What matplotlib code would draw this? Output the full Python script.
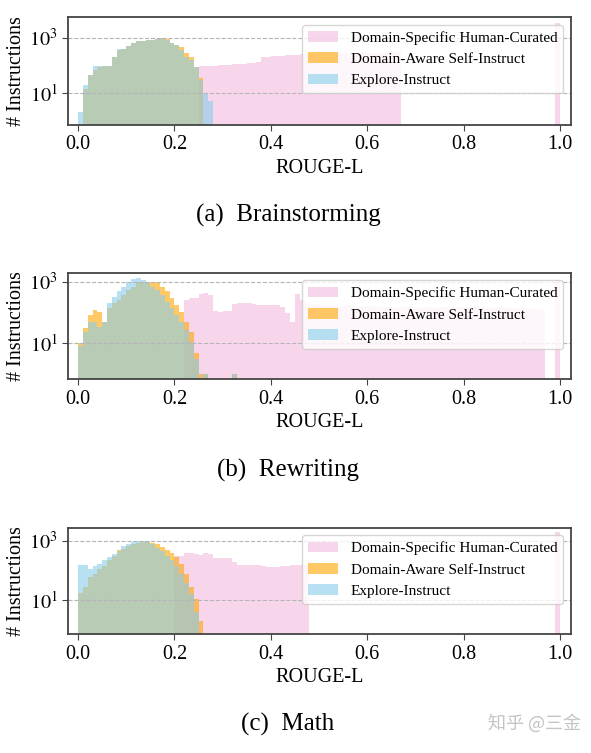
import numpy as np
import matplotlib
matplotlib.use("Agg")
import matplotlib.pyplot as plt
from matplotlib.ticker import NullLocator

plt.rcParams["font.family"] = ["Liberation Serif", "DejaVu Serif"]
plt.rcParams["mathtext.fontset"] = "stix"

# --- histogram counts per 0.01 ROUGE-L bin (start bin index, counts) ----------
EDGES = np.round(np.linspace(0.0, 1.0, 101), 2)

# (a) Brainstorming
A_HUMAN = (25, [90, 92, 95, 95, 98, 100, 105, 108, 110, 112, 115, 120, 125,
                200, 205, 210, 215, 220, 225, 230, 240,
                250, 255, 260, 262, 265, 268, 270, 270, 272, 275, 275, 278,
                280, 280, 282, 285, 285, 288, 290, 290, 292])
A_HUMAN_TOP = (99, [3300])
A_SELF = (0, [0, 14, 43, 65, 85, 90, 95, 200, 360, 400, 480, 640, 730, 760,
              800, 850, 920, 1000, 900, 650, 530, 450, 270, 200, 85, 35])
A_EXPLORE = (0, [2, 19, 43, 90, 95, 90, 95, 200, 400, 400, 480, 640, 730,
                 760, 800, 850, 920, 1000, 850, 650, 520, 350, 200, 150, 85,
                 30, 10, 5])

# (b) Rewriting
B_HUMAN = (22, [250, 300, 300, 400, 420, 380, 110, 105, 110, 115,
                190, 200, 205, 200, 195, 180, 175, 170, 175, 170, 150, 95, 50,
                400, 250, 200, 180, 190, 170, 160, 175, 165, 150, 160, 170,
                155, 150, 165, 160, 150, 145, 160, 155, 150, 140, 150, 160,
                145, 140, 150, 155, 140, 135, 150, 145, 140, 150, 145, 135,
                140, 150, 145, 140, 135, 140, 145, 150, 140, 135, 130, 140,
                135, 130, 125, 120])
B_HUMAN_TOP = (99, [1100])
B_SELF = (0, [10, 32, 83, 120, 107, 50, 140, 200, 250, 370, 540, 690, 950,
              1000, 1000, 1000, 950, 690, 480, 290, 175, 107, 50, 24, 5, 1, 1,
              0, 0, 0, 0, 0, 1])
B_EXPLORE = (0, [8, 24, 50, 50, 35, 50, 200, 320, 480, 690, 1000, 1230, 1350,
                 1120, 890, 690, 540, 370, 220, 140, 83, 50, 27, 11, 3, 0, 1,
                 0, 0, 0, 0, 0, 1])

# (c) Math
C_HUMAN = (20, [300, 300, 380, 380, 350, 340, 380, 360, 260, 260, 270, 260,
                200, 160, 160, 155, 160, 150, 140, 135, 135, 135, 140, 140,
                150, 150, 155, 155])
C_HUMAN_TOP = (99, [2000])
C_SELF = (0, [18, 27, 59, 78, 115, 138, 220, 316, 480, 550, 660, 780, 850,
              930, 1000, 850, 780, 630, 500, 390, 280, 170, 78, 27, 11, 2])
C_EXPLORE = (0, [150, 160, 115, 138, 170, 220, 280, 355, 450, 660, 810, 930,
                 1000, 1000, 930, 780, 590, 460, 320, 220, 140, 78, 37, 16, 4])

PANELS = [
    ("(a)  Brainstorming", [A_HUMAN, A_HUMAN_TOP], A_SELF, A_EXPLORE, (0.67, 5600)),
    ("(b)  Rewriting", [B_HUMAN, B_HUMAN_TOP], B_SELF, B_EXPLORE, (0.68, 1950)),
    ("(c)  Math", [C_HUMAN, C_HUMAN_TOP], C_SELF, C_EXPLORE, (0.71, 2800)),
]
LABELS = ["Domain-Specific Human-Curated", "Domain-Aware Self-Instruct",
          "Explore-Instruct"]
COLORS = ["#f2bbdf", "orange", "skyblue"]

# axes boxes in pixels: (top, bottom)
W, H = 591, 753
BOXES = [(17, 125), (272.7, 379.3), (527.7, 634.3)]
CAPTION_Y = [215, 470, 724]


def counts_of(*parts):
    c = np.zeros(len(EDGES) - 1)
    for start, vals in parts:
        c[start:start + len(vals)] = vals
    return c


fig = plt.figure(figsize=(W / 100, H / 100), dpi=100)
for (cap, human, selfi, explore, ylim), (top, bot), cy in zip(PANELS, BOXES, CAPTION_Y):
    ax = fig.add_axes([68 / W, 1 - bot / H, 503 / W, (bot - top) / H])
    series = [counts_of(*human), counts_of(selfi), counts_of(explore)]
    for cnt, col, lab in zip(series, COLORS, LABELS):
        ax.hist(EDGES[:-1], bins=EDGES, weights=cnt, color=col, alpha=0.6,
                log=True, label=lab)
    ax.set_xlim(-0.021, 1.023)
    ax.set_ylim(*ylim)
    ax.set_yticks([10, 1000])
    ax.set_yticklabels(["$10^1$", "$10^3$"])
    ax.yaxis.set_minor_locator(NullLocator())
    ax.set_xticks([0.0, 0.2, 0.4, 0.6, 0.8, 1.0])
    ax.set_xticklabels(["0.0", "0.2", "0.4", "0.6", "0.8", "1.0"])
    ax.tick_params(labelsize=14.5, color="#444444", length=4)
    ax.yaxis.grid(True, linestyle="--", color="#b5b5b5", linewidth=0.8)
    for sp in ax.spines.values():
        sp.set_color("#444444")
        sp.set_linewidth(1.3)
    ax.set_xlabel("ROUGE-L", fontsize=14.5, labelpad=3)
    ax.set_ylabel("# Instructions", fontsize=14.5, labelpad=2)
    ax.legend(loc="upper right", fontsize=11, framealpha=0.8)
    fig.text(288 / W, 1 - cy / H, cap, fontsize=18, ha="center", va="center")

fig.text(535 / W, 1 - 723 / H, "知乎 @三金", fontsize=13, color="#c4c4c4",
         ha="center", va="center", family=["Noto Sans CJK SC", "DejaVu Sans"])

fig.savefig("out.png", dpi=100)
